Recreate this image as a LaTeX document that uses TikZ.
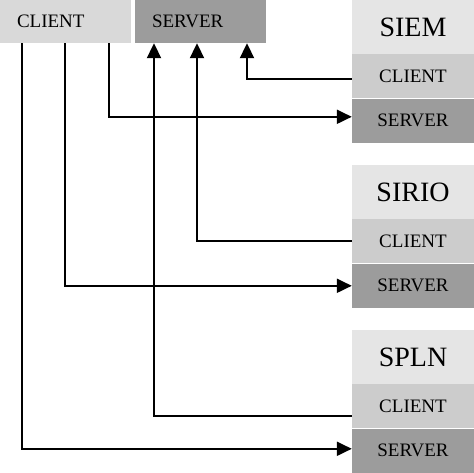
\documentclass[tikz,border=0pt]{standalone}
\usepackage{fontspec}
\setmainfont{Liberation Serif}
\usetikzlibrary{arrows.meta,positioning}
\definecolor{titlegray}{gray}{0.9}
\definecolor{clientgray}{gray}{0.8}
\definecolor{topclientgray}{gray}{0.85}
\definecolor{servergray}{gray}{0.61}

\begin{document}
\begin{tikzpicture}[x=1pt, y=-1pt]
      \tikzstyle{topbox} = [rectangle, inner xsep=17pt, inner ysep=0pt, text width=97pt, align=left, minimum height=43pt, font=\fontsize{19}{22}\selectfont]
      \tikzstyle{sysname} = [rectangle, fill=titlegray, inner sep=0pt, minimum width=122pt, minimum height=54pt, font=\fontsize{28}{32}\selectfont]
      \tikzstyle{part} = [rectangle, inner sep=0pt, minimum width=122pt, minimum height=44pt, font=\fontsize{19}{22}\selectfont]
      \tikzstyle{link} = [line width=2pt, -{Triangle[length=15pt, width=14pt]}]
      \tikzstyle{wire} = [line width=2pt]

      \useasboundingbox (0,0) rectangle (474,473);

      \node[topbox, fill=topclientgray] (client) at (65.5,21.5) {CLIENT};
      \node[topbox, fill=servergray] (server) at (200.5,21.5) {SERVER};

      \node[sysname] (siem) at (413,27) {SIEM};
      \node[part, fill=clientgray, below=0pt of siem] (siemc) {CLIENT};
      \node[part, fill=servergray, below=0pt of siemc] (siems) {SERVER};

      \node[sysname] (sirio) at (413,192) {SIRIO};
      \node[part, fill=clientgray, below=0pt of sirio] (sirioc) {CLIENT};
      \node[part, fill=servergray, below=0pt of sirioc] (sirios) {SERVER};

      \node[sysname] (spln) at (413,357) {SPLN};
      \node[part, fill=clientgray, below=0pt of spln] (splnc) {CLIENT};
      \node[part, fill=servergray, below=0pt of splnc] (splns) {SERVER};

      % client -> server of each system
      \draw[link] ([xshift=43.5pt]client.south) |- ([yshift=4pt]siems.west);
      \draw[link] ([xshift=-0.5pt]client.south) |- (sirios.west);
      \draw[link] ([xshift=-43.5pt]client.south) |- ([yshift=2pt]splns.west);

      % client of each system -> server
      \draw[link] ([yshift=-3pt]siemc.west) -| ([xshift=46.5pt]server.south);
      \draw[link] (sirioc.west) -| ([xshift=-3.5pt]server.south);
      \draw[link] ([yshift=-10pt]splnc.west) -| ([xshift=-46.5pt]server.south);
    \end{tikzpicture}
\end{document}
